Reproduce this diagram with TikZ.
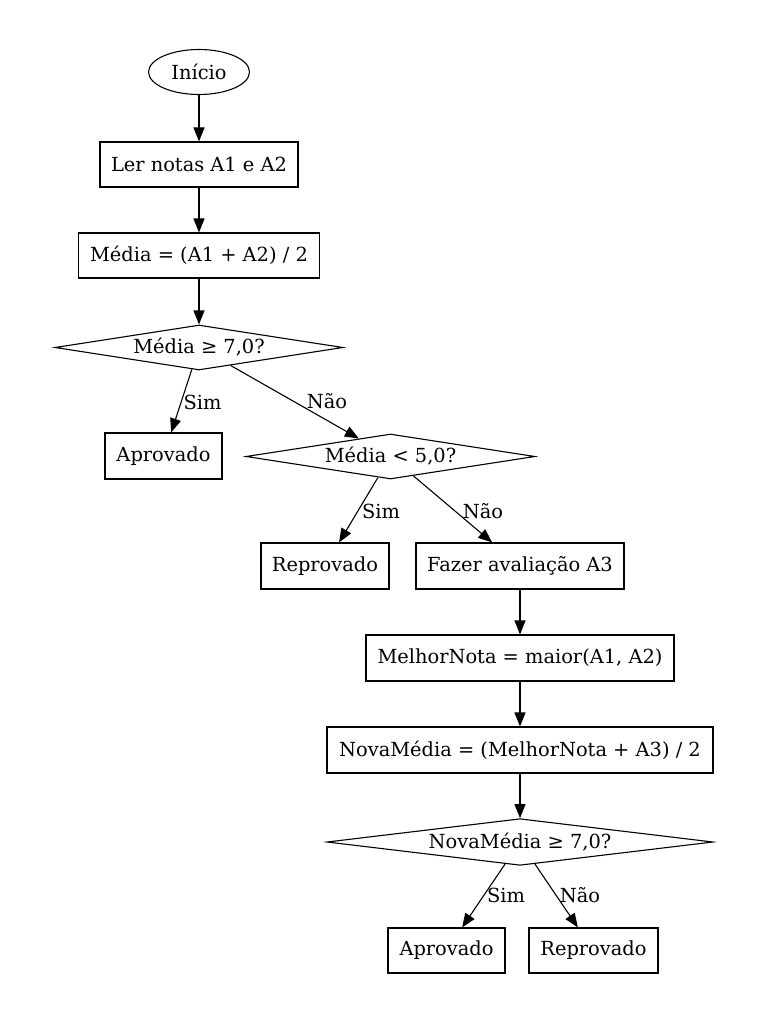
\documentclass[tikz,border=0pt]{standalone}
\usepackage{fontspec}
\setmainfont{DejaVu Serif}
\usetikzlibrary{shapes.geometric,arrows.meta}
\begin{document}
\begin{tikzpicture}[x=1pt,y=-1pt,
  every node/.style={font=\fontsize{19.4}{23}\selectfont},
  box/.style={draw,line width=1.1pt,rectangle,inner sep=0pt},
  term/.style={draw,line width=1.1pt,ellipse,inner sep=0pt,minimum width=101pt,minimum height=45pt},
  dec/.style={draw,line width=1.1pt,diamond,aspect=6.4,inner sep=0pt,minimum height=45pt},
  arr/.style={line width=1.1pt,-{Triangle[length=14pt,width=11pt]}},
  lbl/.style={inner sep=0pt}]
\useasboundingbox (0,0) rectangle (768,1024);
\node[term] (ini) at (199,72) {Início};
\node[box,minimum width=198pt,minimum height=45pt] (ler) at (199,164.5) {Ler notas A1 e A2};
\node[box,minimum width=241pt,minimum height=45pt] (med) at (199,255.5) {Média = (A1 + A2) / 2};
\node[dec,minimum width=288pt] (d1) at (199,347.5) {Média ≥ 7,0?};
\node[box,minimum width=117pt,minimum height=46pt] (ap1) at (163.5,456) {Aprovado};
\node[dec,minimum width=289pt] (d2) at (390.5,456.5) {Média < 5,0?};
\node[box,minimum width=128pt,minimum height=46pt] (rp1) at (325,566) {Reprovado};
\node[box,minimum width=208pt,minimum height=46pt] (faz) at (520,566) {Fazer avaliação A3};
\node[box,minimum width=308pt,minimum height=46pt] (mel) at (520,658) {MelhorNota = maior(A1, A2)};
\node[box,minimum width=386pt,minimum height=46pt] (nov) at (520,750) {NovaMédia = (MelhorNota + A3) / 2};
\node[dec,minimum width=386pt,minimum height=46pt] (d3) at (520,842) {NovaMédia ≥ 7,0?};
\node[box,minimum width=117pt,minimum height=45pt] (ap2) at (446.5,950.5) {Aprovado};
\node[box,minimum width=129pt,minimum height=45pt] (rp2) at (593.5,950.5) {Reprovado};
\draw[arr] (ini) -- (ler);
\draw[arr] (ler) -- (med);
\draw[arr] (med) -- (d1);
\draw[arr] (d1) -- (ap1);
\draw[arr] (d1) -- (d2);
\draw[arr] (d2) -- (rp1);
\draw[arr] (d2) -- (faz);
\draw[arr] (faz) -- (mel);
\draw[arr] (mel) -- (nov);
\draw[arr] (nov) -- (d3);
\draw[arr] (d3) -- (ap2);
\draw[arr] (d3) -- (rp2);
\node[lbl] (l1) at (202.5,402) {Sim};
\node[lbl] (l2) at (327,401) {Não};
\node[lbl] (l3) at (381,511) {Sim};
\node[lbl] (l4) at (483,511) {Não};
\node[lbl] (l5) at (506,895) {Sim};
\node[lbl] (l6) at (580,895) {Não};
\end{tikzpicture}
\end{document}
